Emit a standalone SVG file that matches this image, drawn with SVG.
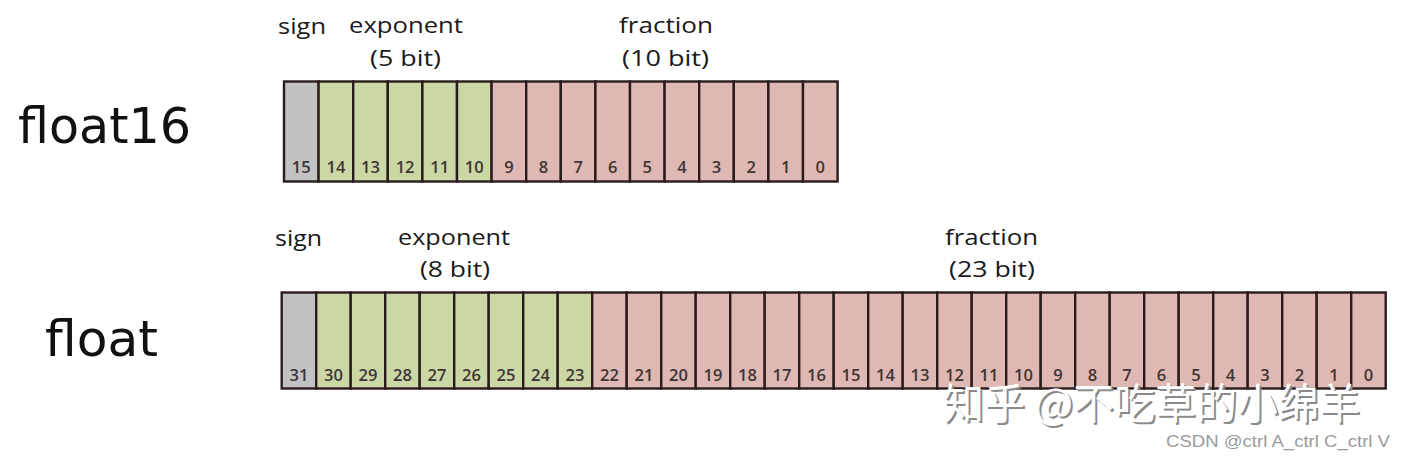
<svg xmlns="http://www.w3.org/2000/svg" width="1407" height="460" viewBox="0 0 1407 460">
<style>
.s{fill:#c2c2c2}.e{fill:#cbd8a5}.f{fill:#dfb8b4}
.c{stroke:#2a1c1c;stroke-width:2.4}
.n{font-family:"Open Sans","Liberation Sans",sans-serif;font-weight:600;font-size:16.5px;fill:#3d3535;text-anchor:middle}
.lbl{font-family:"Open Sans","Liberation Sans",sans-serif;font-size:22px;fill:#1a1a1a}
.big{font-family:"DejaVu Sans","Liberation Sans",sans-serif;font-size:49px;fill:#111}
.wm{font-family:"Noto Sans CJK SC",sans-serif;font-size:42px}
.cs{font-family:"Liberation Sans",Arial,sans-serif;font-size:16px;fill:#9a9a9a}
</style>
<rect width="1407" height="460" fill="#fff"/>

<g id="title-float16"><text class="big" x="18" y="143" textLength="173" lengthAdjust="spacingAndGlyphs">float16</text></g>
<g id="title-float"><text class="big" x="45" y="356" textLength="113" lengthAdjust="spacingAndGlyphs">float</text></g>

<g id="labels-float16">
<text class="lbl" x="278" y="34" textLength="48" lengthAdjust="spacingAndGlyphs">sign</text>
<text class="lbl" x="349" y="33" textLength="114" lengthAdjust="spacingAndGlyphs">exponent</text>
<text class="lbl" x="370" y="66" textLength="71" lengthAdjust="spacingAndGlyphs">(5 bit)</text>
<text class="lbl" x="619" y="33" textLength="94" lengthAdjust="spacingAndGlyphs">fraction</text>
<text class="lbl" x="622" y="66" textLength="87" lengthAdjust="spacingAndGlyphs">(10 bit)</text>
</g>
<g id="labels-float">
<text class="lbl" x="275" y="246" textLength="47" lengthAdjust="spacingAndGlyphs">sign</text>
<text class="lbl" x="398" y="245" textLength="112" lengthAdjust="spacingAndGlyphs">exponent</text>
<text class="lbl" x="420" y="277" textLength="70" lengthAdjust="spacingAndGlyphs">(8 bit)</text>
<text class="lbl" x="945" y="245" textLength="93" lengthAdjust="spacingAndGlyphs">fraction</text>
<text class="lbl" x="949" y="277" textLength="86" lengthAdjust="spacingAndGlyphs">(23 bit)</text>
</g>

<g id="float16-bits">
<g id="f16-b15"><rect class="s c" x="284" y="81.5" width="34.6" height="100"/><text class="n" x="301.3" y="173">15</text></g>
<g id="f16-b14"><rect class="e c" x="318.6" y="81.5" width="34.6" height="100"/><text class="n" x="335.9" y="173">14</text></g>
<g id="f16-b13"><rect class="e c" x="353.2" y="81.5" width="34.6" height="100"/><text class="n" x="370.5" y="173">13</text></g>
<g id="f16-b12"><rect class="e c" x="387.8" y="81.5" width="34.6" height="100"/><text class="n" x="405.1" y="173">12</text></g>
<g id="f16-b11"><rect class="e c" x="422.4" y="81.5" width="34.6" height="100"/><text class="n" x="439.7" y="173">11</text></g>
<g id="f16-b10"><rect class="e c" x="457" y="81.5" width="34.6" height="100"/><text class="n" x="474.3" y="173">10</text></g>
<g id="f16-b9"><rect class="f c" x="491.6" y="81.5" width="34.6" height="100"/><text class="n" x="508.9" y="173">9</text></g>
<g id="f16-b8"><rect class="f c" x="526.2" y="81.5" width="34.6" height="100"/><text class="n" x="543.5" y="173">8</text></g>
<g id="f16-b7"><rect class="f c" x="560.8" y="81.5" width="34.6" height="100"/><text class="n" x="578.1" y="173">7</text></g>
<g id="f16-b6"><rect class="f c" x="595.4" y="81.5" width="34.6" height="100"/><text class="n" x="612.7" y="173">6</text></g>
<g id="f16-b5"><rect class="f c" x="630" y="81.5" width="34.6" height="100"/><text class="n" x="647.3" y="173">5</text></g>
<g id="f16-b4"><rect class="f c" x="664.6" y="81.5" width="34.6" height="100"/><text class="n" x="681.9" y="173">4</text></g>
<g id="f16-b3"><rect class="f c" x="699.2" y="81.5" width="34.6" height="100"/><text class="n" x="716.5" y="173">3</text></g>
<g id="f16-b2"><rect class="f c" x="733.8" y="81.5" width="34.6" height="100"/><text class="n" x="751.1" y="173">2</text></g>
<g id="f16-b1"><rect class="f c" x="768.4" y="81.5" width="34.6" height="100"/><text class="n" x="785.7" y="173">1</text></g>
<g id="f16-b0"><rect class="f c" x="803" y="81.5" width="34.6" height="100"/><text class="n" x="820.3" y="173">0</text></g>
</g>

<g id="float32-bits">
<g id="f32-b31"><rect class="s c" x="281.7" y="292.5" width="34.5" height="96"/><text class="n" x="298.95" y="381">31</text></g>
<g id="f32-b30"><rect class="e c" x="316.2" y="292.5" width="34.5" height="96"/><text class="n" x="333.45" y="381">30</text></g>
<g id="f32-b29"><rect class="e c" x="350.7" y="292.5" width="34.5" height="96"/><text class="n" x="367.95" y="381">29</text></g>
<g id="f32-b28"><rect class="e c" x="385.2" y="292.5" width="34.5" height="96"/><text class="n" x="402.45" y="381">28</text></g>
<g id="f32-b27"><rect class="e c" x="419.7" y="292.5" width="34.5" height="96"/><text class="n" x="436.95" y="381">27</text></g>
<g id="f32-b26"><rect class="e c" x="454.2" y="292.5" width="34.5" height="96"/><text class="n" x="471.45" y="381">26</text></g>
<g id="f32-b25"><rect class="e c" x="488.7" y="292.5" width="34.5" height="96"/><text class="n" x="505.95" y="381">25</text></g>
<g id="f32-b24"><rect class="e c" x="523.2" y="292.5" width="34.5" height="96"/><text class="n" x="540.45" y="381">24</text></g>
<g id="f32-b23"><rect class="e c" x="557.7" y="292.5" width="34.5" height="96"/><text class="n" x="574.95" y="381">23</text></g>
<g id="f32-b22"><rect class="f c" x="592.2" y="292.5" width="34.5" height="96"/><text class="n" x="609.45" y="381">22</text></g>
<g id="f32-b21"><rect class="f c" x="626.7" y="292.5" width="34.5" height="96"/><text class="n" x="643.95" y="381">21</text></g>
<g id="f32-b20"><rect class="f c" x="661.2" y="292.5" width="34.5" height="96"/><text class="n" x="678.45" y="381">20</text></g>
<g id="f32-b19"><rect class="f c" x="695.7" y="292.5" width="34.5" height="96"/><text class="n" x="712.95" y="381">19</text></g>
<g id="f32-b18"><rect class="f c" x="730.2" y="292.5" width="34.5" height="96"/><text class="n" x="747.45" y="381">18</text></g>
<g id="f32-b17"><rect class="f c" x="764.7" y="292.5" width="34.5" height="96"/><text class="n" x="781.95" y="381">17</text></g>
<g id="f32-b16"><rect class="f c" x="799.2" y="292.5" width="34.5" height="96"/><text class="n" x="816.45" y="381">16</text></g>
<g id="f32-b15"><rect class="f c" x="833.7" y="292.5" width="34.5" height="96"/><text class="n" x="850.95" y="381">15</text></g>
<g id="f32-b14"><rect class="f c" x="868.2" y="292.5" width="34.5" height="96"/><text class="n" x="885.45" y="381">14</text></g>
<g id="f32-b13"><rect class="f c" x="902.7" y="292.5" width="34.5" height="96"/><text class="n" x="919.95" y="381">13</text></g>
<g id="f32-b12"><rect class="f c" x="937.2" y="292.5" width="34.5" height="96"/><text class="n" x="954.45" y="381">12</text></g>
<g id="f32-b11"><rect class="f c" x="971.7" y="292.5" width="34.5" height="96"/><text class="n" x="988.95" y="381">11</text></g>
<g id="f32-b10"><rect class="f c" x="1006.2" y="292.5" width="34.5" height="96"/><text class="n" x="1023.45" y="381">10</text></g>
<g id="f32-b9"><rect class="f c" x="1040.7" y="292.5" width="34.5" height="96"/><text class="n" x="1057.95" y="381">9</text></g>
<g id="f32-b8"><rect class="f c" x="1075.2" y="292.5" width="34.5" height="96"/><text class="n" x="1092.45" y="381">8</text></g>
<g id="f32-b7"><rect class="f c" x="1109.7" y="292.5" width="34.5" height="96"/><text class="n" x="1126.95" y="381">7</text></g>
<g id="f32-b6"><rect class="f c" x="1144.2" y="292.5" width="34.5" height="96"/><text class="n" x="1161.45" y="381">6</text></g>
<g id="f32-b5"><rect class="f c" x="1178.7" y="292.5" width="34.5" height="96"/><text class="n" x="1195.95" y="381">5</text></g>
<g id="f32-b4"><rect class="f c" x="1213.2" y="292.5" width="34.5" height="96"/><text class="n" x="1230.45" y="381">4</text></g>
<g id="f32-b3"><rect class="f c" x="1247.7" y="292.5" width="34.5" height="96"/><text class="n" x="1264.95" y="381">3</text></g>
<g id="f32-b2"><rect class="f c" x="1282.2" y="292.5" width="34.5" height="96"/><text class="n" x="1299.45" y="381">2</text></g>
<g id="f32-b1"><rect class="f c" x="1316.7" y="292.5" width="34.5" height="96"/><text class="n" x="1333.95" y="381">1</text></g>
<g id="f32-b0"><rect class="f c" x="1351.2" y="292.5" width="34.5" height="96"/><text class="n" x="1368.45" y="381">0</text></g>
</g>

<g id="connectors"/>

<g id="watermark">
<text class="wm" x="945" y="421" textLength="417" lengthAdjust="spacingAndGlyphs" fill="#8a8a8a">知乎 @不吃草的小绵羊</text>
<text class="wm" x="943" y="419" textLength="417" lengthAdjust="spacingAndGlyphs" fill="#ffffff">知乎 @不吃草的小绵羊</text>
<text class="cs" x="1166" y="447" textLength="224" lengthAdjust="spacingAndGlyphs">CSDN @ctrl A_ctrl C_ctrl V</text>
</g>
</svg>
